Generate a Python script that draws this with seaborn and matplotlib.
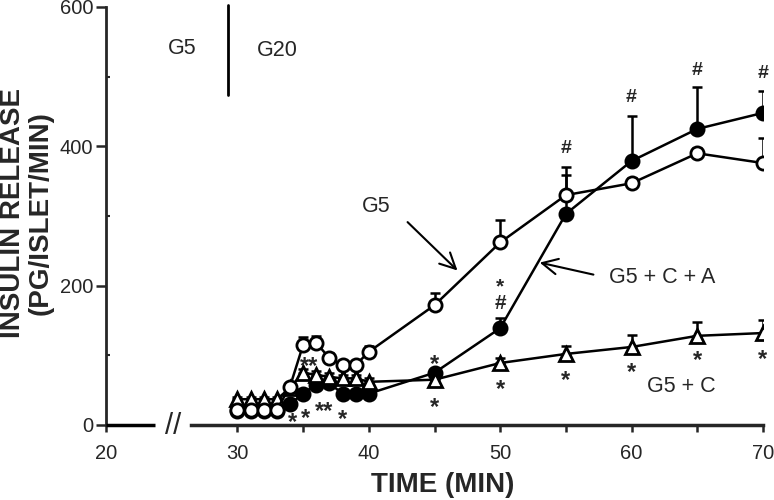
import seaborn as sns
import pandas as pd
import numpy as np
import matplotlib.pyplot as plt
from matplotlib.ticker import FixedLocator

# time points (min)
time = [30, 31, 32, 33, 34, 35, 36, 37, 38, 39, 40, 45, 50, 55, 60, 65, 70]
# G5 (open circles)
g5 = [22, 22, 22, 22, 55, 115, 118, 96, 86, 86, 105, 172, 262, 330, 347, 390, 376]
g5_err = [4, 4, 4, 4, 6, 12, 10, 8, 6, 6, 8, 17, 32, 29, 8, 8, 36]
# G5 + C + A (filled circles)
g5ca = [20, 20, 20, 20, 30, 45, 58, 60, 45, 44, 45, 75, 139, 303, 379, 425, 448]
g5ca_err = [4, 4, 4, 4, 5, 6, 6, 6, 5, 5, 5, 6, 14, 67, 64, 60, 31]
# G5 + C (open triangles)
g5c = [37, 37, 37, 37, 53, 75, 72, 69, 67, 67, 62, 65, 89, 102, 112, 128, 132]
g5c_err = [3, 3, 3, 3, 5, 5, 5, 5, 5, 5, 5, 6, 7, 11, 17, 20, 19]

# significance marks
hash_x = [55, 60, 65, 70]
hash_y = [397, 470, 509, 505]
star_x = [45, 45, 50, 55, 60, 65, 70, 34.2, 35.2, 36.6, 38.0, 35.45]
star_y = [97, 36, 62, 75, 86, 103, 105, 14, 20, 30, 19, 94]
star_txt = ["*"] * 9 + ["**", "*", "**"]

df = pd.DataFrame({"time": time, "g5": g5, "g5ca": g5ca, "g5c": g5c})

sns.set_style("ticks")
plt.rcParams["font.family"] = ["Liberation Sans", "DejaVu Sans"]

fig = plt.figure(figsize=(7.74, 5.0), dpi=100)
ax = fig.add_axes([106 / 774, 0.15, (763 - 106) / 774, 418 / 500])

lw = 1.8
ms = 9.5
series = [
    ("g5ca", g5ca, g5ca_err, "o", "black"),
    ("g5c", g5c, g5c_err, "^", "white"),
    ("g5", g5, g5_err, "o", "white"),
]
for col, vals, err, mk, fc in series:
    ax.errorbar(time, vals, yerr=[np.zeros(len(err)), err], fmt="none",
                ecolor="black", elinewidth=lw, capsize=3.8, capthick=lw, zorder=2)
    sns.lineplot(data=df, x="time", y=col, ax=ax, color="black", lw=lw,
                 marker=mk, markersize=ms, markerfacecolor=fc,
                 markeredgecolor="black", markeredgewidth=2, zorder=3)

ax.set_xlim(20, 70)
ax.set_ylim(0, 600)
ax.set_xlabel("")
ax.set_ylabel("")

ax.set_xticks([20, 30, 40, 50, 60, 70])
ax.xaxis.set_minor_locator(FixedLocator([35, 45, 55, 65]))
ax.set_yticks([0, 200, 400, 600])
ax.yaxis.set_minor_locator(FixedLocator([100, 300, 500]))
ax.tick_params(axis="x", which="both", direction="out", length=5, width=1.8,
               labelsize=14.5, pad=9)
ax.tick_params(axis="y", which="major", direction="out", length=7, width=1.8,
               labelsize=14.5, pad=2)
ax.tick_params(axis="y", which="minor", direction="in", length=3, width=1.5)

for s in ["top", "right"]:
    ax.spines[s].set_visible(False)
ax.spines["left"].set_linewidth(2)
ax.spines["bottom"].set_linewidth(2.5)
ax.spines["bottom"].set_bounds(26.5, 70)
ax.plot([20, 23.7], [0, 0], color="black", lw=2.5, clip_on=False,
        solid_capstyle="butt", zorder=4)
ax.text(25.1, -2, "//", ha="center", va="center", fontsize=21)

# stimulus marker
ax.plot([29.3, 29.3], [473, 603], color="black", lw=2, clip_on=False)
ax.text(25.8, 541, "G5", ha="center", va="center", fontsize=15.5)
ax.text(33.0, 538, "G20", ha="center", va="center", fontsize=15.5)

for x, y in zip(hash_x, hash_y):
    ax.text(x, y, "#", ha="center", va="center", fontsize=14, fontweight="bold")
for x, y, t in zip(star_x, star_y, star_txt):
    ax.annotate(t, xy=(x, y), xytext=(0, -10), textcoords="offset points",
                ha="center", va="baseline", fontsize=17, fontweight="bold")
# star above hash at 50 min
ax.text(50, 186, "*\n#", ha="center", va="center", fontsize=15,
        fontweight="bold", linespacing=0.85)

arrow = dict(arrowstyle="->", lw=1.5, color="black", mutation_scale=28)
ax.annotate("", xy=(46.9, 219), xytext=(42.8, 294), arrowprops=arrow)
ax.text(40.6, 313, "G5", ha="center", va="center", fontsize=15.5)
ax.annotate("", xy=(52.8, 234), xytext=(57.3, 215), arrowprops=arrow)
ax.text(62.3, 212, "G5 + C + A", ha="center", va="center", fontsize=15.5)
ax.text(63.8, 55, "G5 + C", ha="center", va="center", fontsize=15.5)

lab = ["Liberation Sans Narrow", "Liberation Sans", "DejaVu Sans"]
fig.text(27 / 774, 1 - 213 / 500, "INSULIN RELEASE\n(PG/ISLET/MIN)", rotation=90,
         ha="center", va="center", fontsize=20, fontweight="bold", family=lab,
         linespacing=1.1)
fig.text(443 / 774, 1 - 485 / 500, "TIME (MIN)", ha="center", va="center",
         fontsize=20, fontweight="bold", family=lab)

fig.savefig("out.png", dpi=100)
